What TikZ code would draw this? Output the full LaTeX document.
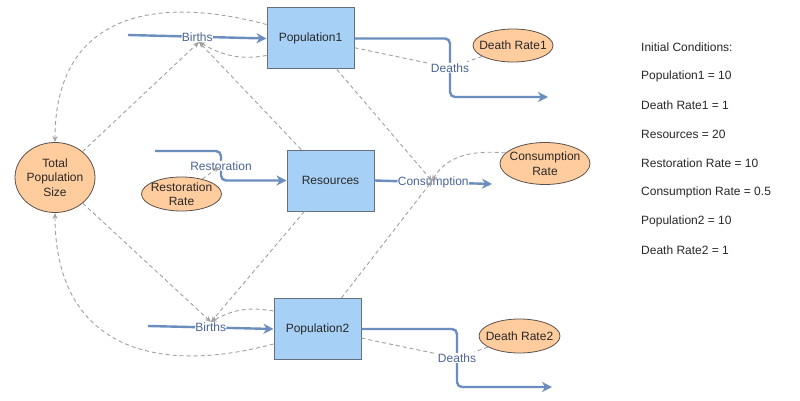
\documentclass[tikz,border=0pt]{standalone}
\usepackage{fontspec}
\setmainfont{Liberation Sans}
\usetikzlibrary{shapes.geometric,arrows.meta,calc}
\definecolor{boxfill}{RGB}{166,208,245}
\definecolor{boxdraw}{RGB}{100,112,128}
\definecolor{ellfill}{RGB}{255,204,158}
\definecolor{elldraw}{RGB}{90,80,75}
\definecolor{flowc}{RGB}{108,142,191}
\definecolor{flowtext}{RGB}{75,100,150}
\definecolor{depc}{RGB}{160,160,160}
\definecolor{txt}{RGB}{40,40,40}
\begin{document}
\begin{tikzpicture}[x=1pt,y=-1pt,
  every node/.style={font=\fontsize{12}{14.5}\selectfont, text=txt},
  stock/.style={rectangle, draw=boxdraw, fill=boxfill, line width=1pt, minimum width=87pt, minimum height=61pt, inner sep=0pt},
  aux/.style={ellipse, draw=elldraw, fill=ellfill, line width=0.8pt, inner sep=0pt},
  inlbl/.style={align=center, inner sep=0pt},
  flow/.style={draw=flowc, line width=2.4pt, rounded corners=5pt, -{Stealth[length=10pt,width=10pt,inset=3pt]}},
  flowlbl/.style={fill=white, text=flowtext, inner sep=0.5pt},
  dep/.style={draw=depc, line width=0.9pt, dash pattern=on 4pt off 3pt, -{Stealth[length=6pt,width=5pt]}},
  depline/.style={draw=depc, line width=0.9pt, dash pattern=on 4pt off 3pt},
  note/.style={anchor=west, inner sep=0pt}
]
\fill[white] (0,0) rectangle (800,401);
\useasboundingbox (0,0) rectangle (800,401);

% stocks
\node[stock] (pop1) at (310.5,38.5) {Population1};
\node[stock] (res) at (330.5,180.5) {Resources};
\node[stock] (pop2) at (317.5,329) {Population2};

% auxiliaries
\node[aux, minimum width=80pt, minimum height=70pt, label={[inlbl]center:Total\\Population\\Size}] (tps) at (55,177.5) {};
\node[aux, minimum width=80pt, minimum height=34pt, label={[inlbl]center:Restoration\\Rate}] (rr) at (181.5,194) {};
\node[aux, minimum width=80pt, minimum height=33pt, label={[inlbl]center:Death Rate1}] (dr1) at (513,45.5) {};
\node[aux, minimum width=81pt, minimum height=34pt, label={[inlbl]center:Death Rate2}] (dr2) at (519.5,336) {};
\node[aux, minimum width=90pt, minimum height=42pt, label={[inlbl]center:Consumption\\Rate}] (cr) at (545,163.5) {};

% flow coordinates
\coordinate (b1s) at (128,35);
\coordinate (d1c) at (450,97);
\coordinate (d1e) at (548,97);
\coordinate (rs) at (155,151);
\coordinate (rk) at (221,180.5);
\coordinate (ce) at (492,184);
\coordinate (b2s) at (148,326);
\coordinate (d2c) at (457,387);
\coordinate (d2e) at (552,387);

% flows
\draw[flow] (b1s) -- node[flowlbl] (births1) {Births} (pop1.west);
\draw[flow] (pop1.east) -| node[flowlbl,pos=0.75] (deaths1) {Deaths} (d1c) -- (d1e);
\draw[flow] (rs) -| node[flowlbl,pos=0.75] (restor) {Restoration} (rk) -- (res.west);
\draw[flow] (res.east) -- node[flowlbl] (consum) {Consumption} (ce);
\draw[flow] (b2s) -- node[flowlbl] (births2) {Births} (pop2.west);
\draw[flow] (pop2.east) -| node[flowlbl,pos=0.75] (deaths2) {Deaths} (d2c) -- (d2e);

% dependency targets
\coordinate (b1t) at (199,42);
\coordinate (b2t) at (211,322);
\coordinate (rt) at (219,167);
\coordinate (ct) at (432,181);

% dependencies
\draw[dep] (tps) -- (b1t);
\draw[dep] (res) -- (b1t);
\draw[dep] ($(pop1.south west)+(0,-14)$) to[out=190,in=-30] (b1t);
\draw[dep] ($(pop1.north west)+(0,17)$) to[out=165,in=90,looseness=1.3] (tps.north);
\draw[dep] (tps) -- (b2t);
\draw[dep] (res) -- (b2t);
\draw[dep] ($(pop2.north west)+(0,13)$) to[out=170,in=30] (b2t);
\draw[dep] ($(pop2.south west)+(0,-16)$) to[out=195,in=-90,looseness=1.3] (tps.south);
\draw[dep] (rr) -- (rt);
\draw[dep] (pop1) -- (ct);
\draw[dep] (pop2) -- (ct);
\draw[dep] (cr.165) to[out=175,in=60] (ct);
\draw[depline] (pop1) -- (deaths1);
\draw[depline] (dr1) -- (deaths1);
\draw[depline] (pop2) -- (deaths2);
\draw[depline] (dr2) -- (deaths2);

% initial conditions
\node[note] (ic0) at (641,47) {Initial Conditions:};
\node[note] (ic1) at (641,76) {Population1 = 10};
\node[note] (ic2) at (641,105) {Death Rate1 = 1};
\node[note] (ic3) at (641,134) {Resources = 20};
\node[note] (ic4) at (641,163) {Restoration Rate = 10};
\node[note] (ic5) at (641,192) {Consumption Rate = 0.5};
\node[note] (ic6) at (641,221) {Population2 = 10};
\node[note] (ic7) at (641,250) {Death Rate2 = 1};
\end{tikzpicture}
\end{document}
